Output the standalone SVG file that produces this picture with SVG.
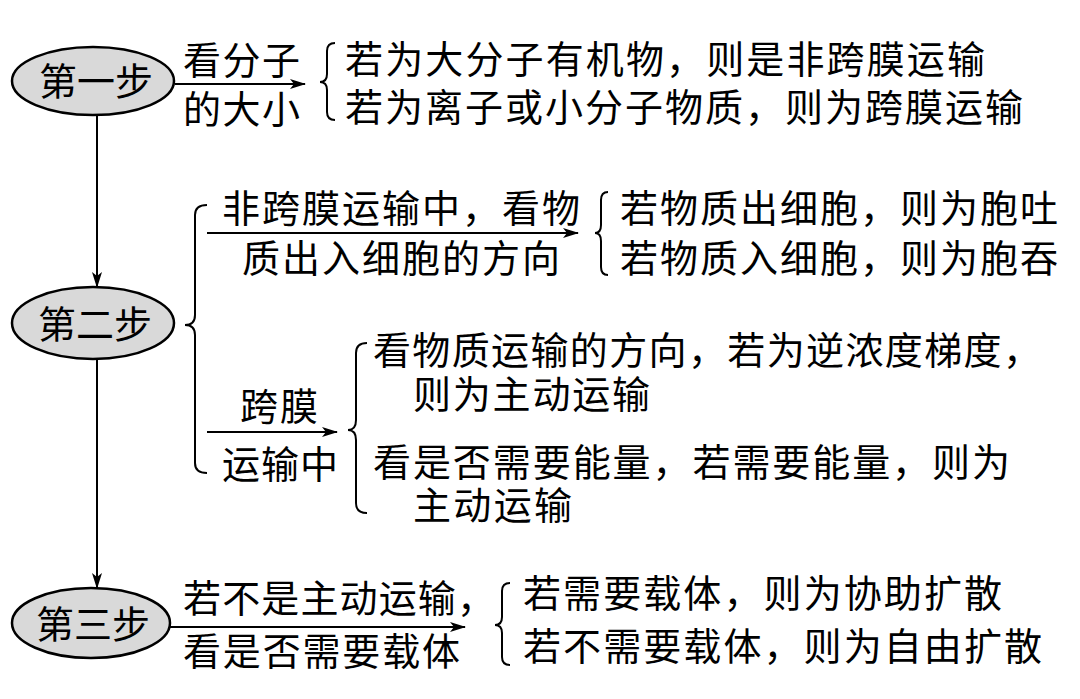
<svg xmlns="http://www.w3.org/2000/svg" width="1080" height="699" viewBox="0 0 1080 699">
<style>
text{font-family:"Liberation Serif","Noto Sans CJK SC",serif;font-size:38px;fill:#000}
.node ellipse{fill:#d9d9d9;stroke:#000;stroke-width:2.5}
.ln{stroke:#000;stroke-width:2;fill:none}
.br{stroke:#000;stroke-width:2;fill:none}
</style>
<defs>
<marker id="ah" markerWidth="16" markerHeight="10" refX="15" refY="5" orient="auto" markerUnits="userSpaceOnUse">
<path d="M0,0 L16,5 L0,10 L4,5 Z" fill="#000"/>
</marker>
</defs>
<rect width="1080" height="699" fill="#fff"/>
<g id="connectors">
<line class="ln" x1="97" y1="115" x2="97" y2="287" marker-end="url(#ah)"/>
<line class="ln" x1="97" y1="359" x2="97" y2="588" marker-end="url(#ah)"/>
<line class="ln" x1="175" y1="84" x2="305" y2="84" marker-end="url(#ah)"/>
<line class="ln" x1="207" y1="233" x2="578" y2="233" marker-end="url(#ah)"/>
<line class="ln" x1="207" y1="432" x2="337" y2="432" marker-end="url(#ah)"/>
<line class="ln" x1="170" y1="627" x2="465" y2="627" marker-end="url(#ah)"/>
</g>
<g id="braces">
<path class="br" d="M335,43 Q327,43 327,51 L327,74 Q327,82 320,82 Q327,82 327,90 L327,112 Q327,120 335,120"/>
<path class="br" d="M207,205 Q195,205 195,215 L195,315 Q195,325 185,325 Q195,325 195,335 L195,463 Q195,473 207,473"/>
<path class="br" d="M608,192 Q601,192 601,200 L601,225 Q601,233 595,233 Q601,233 601,241 L601,267 Q601,275 608,275"/>
<path class="br" d="M367,343 Q356,343 356,353 L356,420 Q356,430 348,430 Q356,430 356,440 L356,503 Q356,513 367,513"/>
<path class="br" d="M510,583 Q502,583 502,591 L502,617 Q502,625 495,625 Q502,625 502,633 L502,657 Q502,665 510,665"/>
</g>
<g id="step1" class="node">
<ellipse cx="93" cy="81" rx="81" ry="34"/>
<text x="96" y="95" text-anchor="middle">第一步</text>
</g>
<g id="step2" class="node">
<ellipse cx="93" cy="323" rx="81" ry="36"/>
<text x="95" y="338" text-anchor="middle">第二步</text>
</g>
<g id="step3" class="node">
<ellipse cx="91" cy="623" rx="79" ry="35"/>
<text x="93" y="638" text-anchor="middle">第三步</text>
</g>
<g id="labels">
<text x="183" y="74" textLength="117" lengthAdjust="spacing">看分子</text>
<text x="183" y="123" textLength="117" lengthAdjust="spacing">的大小</text>
<text x="222" y="222" textLength="358" lengthAdjust="spacing">非跨膜运输中，看物</text>
<text x="242" y="272" textLength="318" lengthAdjust="spacing">质出入细胞的方向</text>
<text x="240" y="420" textLength="78" lengthAdjust="spacing">跨膜</text>
<text x="222" y="478" textLength="116" lengthAdjust="spacing">运输中</text>
<text x="183" y="612" textLength="312" lengthAdjust="spacing">若不是主动运输，</text>
<text x="183" y="665" textLength="277" lengthAdjust="spacing">看是否需要载体</text>
</g>
<g id="results">
<text x="345" y="73" textLength="640" lengthAdjust="spacing">若为大分子有机物，则是非跨膜运输</text>
<text x="345" y="121" textLength="678" lengthAdjust="spacing">若为离子或小分子物质，则为跨膜运输</text>
<text x="620" y="222" textLength="438" lengthAdjust="spacing">若物质出细胞，则为胞吐</text>
<text x="620" y="272" textLength="438" lengthAdjust="spacing">若物质入细胞，则为胞吞</text>
<text x="373" y="364" textLength="668" lengthAdjust="spacing">看物质运输的方向，若为逆浓度梯度，</text>
<text x="413" y="408" textLength="237" lengthAdjust="spacing">则为主动运输</text>
<text x="373" y="476" textLength="637" lengthAdjust="spacing">看是否需要能量，若需要能量，则为</text>
<text x="413" y="519" textLength="159" lengthAdjust="spacing">主动运输</text>
<text x="523" y="607" textLength="479" lengthAdjust="spacing">若需要载体，则为协助扩散</text>
<text x="523" y="660" textLength="519" lengthAdjust="spacing">若不需要载体，则为自由扩散</text>
</g>
</svg>
